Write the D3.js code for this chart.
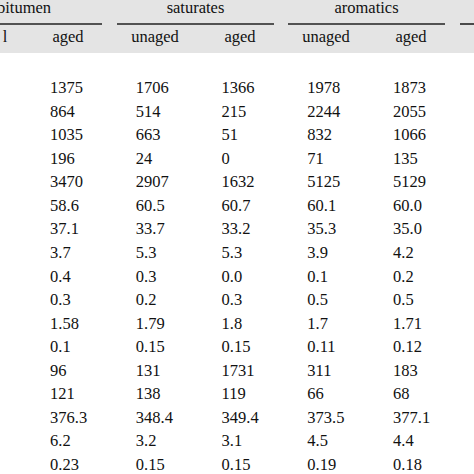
<!DOCTYPE html>
<html>
<head>
<style>
body { margin: 0; background: #fff; }
text { font-family: "Liberation Serif", "DejaVu Serif", serif; font-size: 16.5px; fill: #111; }
</style>
<script src="https://d3js.org/d3.v7.min.js"></script>
</head>
<body>
<svg id="tbl" width="474" height="474"></svg>
<script>
var groups = ["bitumen", "saturates", "aromatics"];
var subHeads = ["l", "aged", "unaged", "aged", "unaged", "aged"];
var bitumenAged = ["1375","864","1035","196","3470","58.6","37.1","3.7","0.4","0.3","1.58","0.1","96","121","376.3","6.2","0.23"];
var satUnaged = ["1706","514","663","24","2907","60.5","33.7","5.3","0.3","0.2","1.79","0.15","131","138","348.4","3.2","0.15"];
var satAged = ["1366","215","51","0","1632","60.7","33.2","5.3","0.0","0.3","1.8","0.15","1731","119","349.4","3.1","0.15"];
var aroUnaged = ["1978","2244","832","71","5125","60.1","35.3","3.9","0.1","0.5","1.7","0.11","311","66","373.5","4.5","0.19"];
var aroAged = ["1873","2055","1066","135","5129","60.0","35.0","4.2","0.2","0.5","1.71","0.12","183","68","377.1","4.4","0.18"];

var cols = [bitumenAged, satUnaged, satAged, aroUnaged, aroAged];
var svg = d3.select("#tbl");

svg.append("rect").attr("x", 0).attr("y", 0).attr("width", 474).attr("height", 53).attr("fill", "#e4e4e4");

var colX = d3.scalePoint().domain(d3.range(5)).range([50, 393]);
var rowY = d3.scalePoint().domain(d3.range(17)).range([93, 470]);

// group titles and rules
var groupSpan = [[-50, 102], [117, 274], [288, 445]];
groups.forEach(function(g, i) {
  var s = groupSpan[i];
  var t = svg.append("text").attr("y", 13).text(g);
  if (i === 0) t.attr("x", -3);
  else t.attr("x", (s[0] + s[1]) / 2).attr("text-anchor", "middle");
  svg.append("line").attr("x1", Math.max(0, s[0])).attr("x2", s[1]).attr("y1", 24).attr("y2", 24)
    .attr("stroke", "#222").attr("stroke-width", 1.6);
});
svg.append("line").attr("x1", 460).attr("x2", 474).attr("y1", 24).attr("y2", 24).attr("stroke", "#222").attr("stroke-width", 1.6);

// sub headers
var subX = [5, 68, 155, 240, 326, 411];
subHeads.forEach(function(h, i) {
  svg.append("text").attr("x", subX[i]).attr("y", 42).attr("text-anchor", "middle").text(h);
});

cols.forEach(function(col, c) {
  svg.selectAll(null).data(col).enter().append("text")
    .attr("x", colX(c)).attr("y", function(d, r) { return rowY(r); })
    .text(function(d) { return d; });
});
</script>
</body>
</html>
